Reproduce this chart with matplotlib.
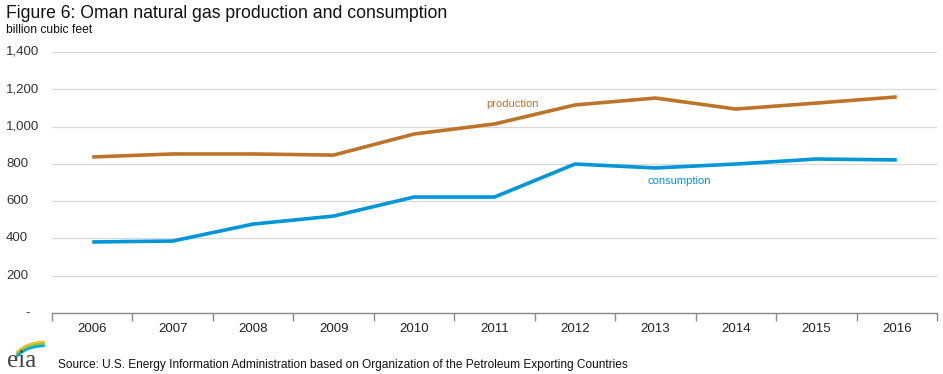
import matplotlib
matplotlib.use("Agg")
import matplotlib.pyplot as plt
from matplotlib.patches import Arc
from matplotlib.transforms import blended_transform_factory

years = ["2006", "2007", "2008", "2009", "2010", "2011", "2012", "2013", "2014", "2015", "2016"]
production = [837, 853, 853, 847, 960, 1014, 1116, 1153, 1094, 1126, 1159]
consumption = [381, 386, 477, 520, 622, 622, 799, 778, 799, 826, 821]
yticks = [0, 200, 400, 600, 800, 1000, 1200, 1400]
ytick_labels = ["-", "200", "400", "600", "800", "1,000", "1,200", "1,400"]

plt.rcParams['font.family'] = ['Liberation Sans', 'DejaVu Sans']

W, H = 943, 374
fig = plt.figure(figsize=(W / 100, H / 100), dpi=100)
ax = fig.add_axes([52 / W, (H - 313) / H, (937 - 52) / W, (313 - 52) / H])

prod_c = '#BD7428'
cons_c = '#0096D7'
x = list(range(len(years)))
ax.plot(x, production, color=prod_c, lw=2.6, solid_capstyle='butt')
ax.plot(x, consumption, color=cons_c, lw=2.6, solid_capstyle='butt')

ax.set_xlim(-0.5, len(years) - 0.5)
ax.set_ylim(0, 1400)
ax.set_yticks(yticks)
ax.set_yticklabels([])
ax.yaxis.grid(True, color='#D9D9D9', lw=0.9)
ax.set_axisbelow(True)
ax.tick_params(axis='y', length=0)
tr = blended_transform_factory(fig.transFigure, ax.transData)
for v, lab in zip(yticks, ytick_labels):
    if lab == "-":
        fig.text(28 / W, v, lab, transform=tr, fontsize=9.5, ha='center', va='center', color='#333333')
    else:
        ax.text(6 / W, v, lab, transform=tr, fontsize=9.5, ha='left', va='center', color='#333333')
ax.set_xticks(x)
ax.set_xticklabels(years)
ax.tick_params(axis='x', length=0, labelsize=9.5, pad=7, colors='#222222')
ax.set_xticks([i + 0.5 for i in range(-1, len(years))], minor=True)
ax.tick_params(axis='x', which='minor', length=6, color='#888888', width=1)
for s in ['top', 'right', 'left']:
    ax.spines[s].set_visible(False)
ax.spines['bottom'].set_color('#888888')
ax.spines['bottom'].set_linewidth(1)

ax.text(5.22, 1121, "production", color=prod_c, fontsize=8, ha='center', va='center')
ax.text(7.30, 708, "consumption", color=cons_c, fontsize=8, ha='center', va='center')

fig.text(6 / W, 1 - 14 / H, "Figure 6: Oman natural gas production and consumption",
         fontsize=12.7, va='center', ha='left', color='#111111')
fig.text(6 / W, 1 - 30 / H, "billion cubic feet", fontsize=8.7, va='center', ha='left', color='#111111')
fig.text(58 / W, 1 - 365 / H,
         "Source: U.S. Energy Information Administration based on Organization of the Petroleum Exporting Countries",
         fontsize=8.6, va='center', ha='left', color='#111111')

# eia logo
lax = fig.add_axes([0, 0, 60 / W, 40 / H])
lax.set_xlim(0, 60)
lax.set_ylim(0, 40)
lax.axis('off')
lax.text(7, 13, "eia", fontsize=18, family=['Liberation Serif', 'DejaVu Serif'],
         va='center', ha='left', color='#444444')
for dy, c in [(2, '#F2C12E'), (0, '#8DC63F'), (-2, '#00A9E0')]:
    lax.add_patch(Arc((44, 8 + dy), 64, 44, theta1=88, theta2=158, color=c, lw=1.8))

fig.savefig("out.png", dpi=100)
